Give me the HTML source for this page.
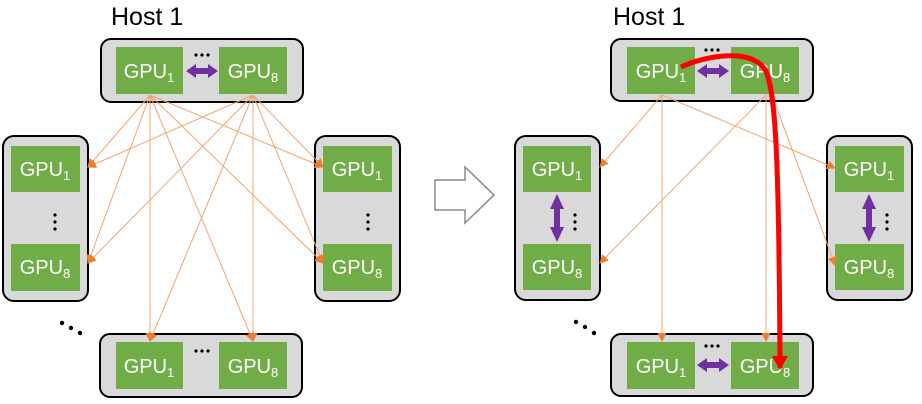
<!DOCTYPE html>
<html><head><meta charset="utf-8"><style>body{margin:0;background:#fff}svg{display:block}</style></head><body>
<svg width="922" height="404" viewBox="0 0 922 404" xmlns="http://www.w3.org/2000/svg" font-family="Liberation Sans, sans-serif">
<defs>
<marker id="oa" markerWidth="9" markerHeight="9" refX="8" refY="4.5" orient="auto" markerUnits="userSpaceOnUse"><path d="M0,0 L9,4.5 L0,9 Z" fill="#ed7d31"/></marker>
<marker id="ra" markerWidth="14" markerHeight="16" refX="12" refY="8" orient="auto" markerUnits="userSpaceOnUse"><path d="M0,0 L14,8 L0,16 Z" fill="#ff0000"/></marker>
<g id="pa"><path d="M0,0 L10,-7 L10,-3 L22,-3 L22,-7 L32,0 L22,7 L22,3 L10,3 L10,7 Z" fill="#7030a0"/></g>
</defs>
<g stroke="#000" stroke-width="2" fill="#d9d9d9">
<rect x="101" y="39" width="202" height="63" rx="10"/>
<rect x="3" y="136" width="85" height="165" rx="11"/>
<rect x="315" y="136" width="85" height="165" rx="11"/>
<rect x="100" y="334" width="202" height="63" rx="10"/>
<rect x="611" y="39" width="202" height="62" rx="10"/>
<rect x="515" y="136" width="85" height="164" rx="11"/>
<rect x="827" y="136" width="85" height="164" rx="11"/>
<rect x="611" y="334" width="202" height="62" rx="10"/>
</g>
<g fill="#70ad47">
<rect x="116" y="47" width="67" height="47"/><rect x="219" y="47" width="68" height="47"/>
<rect x="11" y="146" width="69" height="46"/><rect x="11" y="244" width="69" height="47"/>
<rect x="323" y="146" width="69" height="46"/><rect x="323" y="244" width="69" height="47"/>
<rect x="116" y="342" width="67" height="47"/><rect x="219" y="342" width="68" height="47"/>
<rect x="627" y="47" width="68" height="47"/><rect x="731" y="47" width="68" height="47"/>
<rect x="523" y="146" width="68" height="46"/><rect x="523" y="244" width="68" height="46"/>
<rect x="835" y="146" width="69" height="46"/><rect x="835" y="244" width="69" height="46"/>
<rect x="627" y="342" width="68" height="47"/><rect x="731" y="342" width="68" height="47"/>
</g>
<g fill="#fff" font-size="20" text-anchor="middle">
<text x="149" y="78">GPU<tspan font-size="13" dy="4">1</tspan></text>
<text x="253" y="78">GPU<tspan font-size="13" dy="4">8</tspan></text>
<text x="45" y="176">GPU<tspan font-size="13" dy="4">1</tspan></text>
<text x="45" y="274">GPU<tspan font-size="13" dy="4">8</tspan></text>
<text x="357" y="176">GPU<tspan font-size="13" dy="4">1</tspan></text>
<text x="357" y="274">GPU<tspan font-size="13" dy="4">8</tspan></text>
<text x="149" y="373">GPU<tspan font-size="13" dy="4">1</tspan></text>
<text x="253" y="373">GPU<tspan font-size="13" dy="4">8</tspan></text>
<text x="661" y="78">GPU<tspan font-size="13" dy="4">1</tspan></text>
<text x="765" y="78">GPU<tspan font-size="13" dy="4">8</tspan></text>
<text x="557" y="176">GPU<tspan font-size="13" dy="4">1</tspan></text>
<text x="557" y="274">GPU<tspan font-size="13" dy="4">8</tspan></text>
<text x="869" y="176">GPU<tspan font-size="13" dy="4">1</tspan></text>
<text x="869" y="274">GPU<tspan font-size="13" dy="4">8</tspan></text>
<text x="661" y="373">GPU<tspan font-size="13" dy="4">1</tspan></text>
<text x="765" y="373">GPU<tspan font-size="13" dy="4">8</tspan></text>
</g>
<g font-size="25" fill="#000"><text x="111" y="25">Host 1</text><text x="613" y="25">Host 1</text></g>
<g fill="#000">
<circle cx="196" cy="55" r="1.6"/><circle cx="202" cy="55" r="1.6"/><circle cx="208" cy="55" r="1.6"/>
<circle cx="196" cy="351" r="1.6"/><circle cx="202" cy="351" r="1.6"/><circle cx="208" cy="351" r="1.6"/>
<circle cx="706" cy="50" r="1.6"/><circle cx="712" cy="50" r="1.6"/><circle cx="718" cy="50" r="1.6"/>
<circle cx="706" cy="346" r="1.6"/><circle cx="712" cy="346" r="1.6"/><circle cx="718" cy="346" r="1.6"/>
<circle cx="55" cy="215" r="1.6"/><circle cx="55" cy="222" r="1.6"/><circle cx="55" cy="229" r="1.6"/>
<circle cx="368" cy="215" r="1.6"/><circle cx="368" cy="222" r="1.6"/><circle cx="368" cy="229" r="1.6"/>
<circle cx="575" cy="215" r="1.6"/><circle cx="575" cy="222" r="1.6"/><circle cx="575" cy="229" r="1.6"/>
<circle cx="887" cy="215" r="1.6"/><circle cx="887" cy="222" r="1.6"/><circle cx="887" cy="229" r="1.6"/>
<circle cx="62" cy="323" r="2.2"/><circle cx="71" cy="328" r="2.2"/><circle cx="80" cy="333" r="2.2"/>
<circle cx="576" cy="322" r="2.2"/><circle cx="585" cy="327" r="2.2"/><circle cx="594" cy="333" r="2.2"/>
</g>
<use href="#pa" x="186" y="71"/>
<use href="#pa" x="697" y="71"/>
<use href="#pa" x="697" y="365"/>
<use href="#pa" transform="translate(557,194) rotate(90) scale(1.5,1)"/>
<use href="#pa" transform="translate(869,194) rotate(90) scale(1.5,1)"/>
<g stroke="#f4a46e" stroke-width="1" fill="none" marker-end="url(#oa)">
<line x1="150" y1="95" x2="88" y2="167"/><line x1="150" y1="95" x2="88" y2="263"/>
<line x1="150" y1="95" x2="323" y2="167"/><line x1="150" y1="95" x2="323" y2="263"/>
<line x1="150" y1="95" x2="150" y2="341"/><line x1="150" y1="95" x2="253" y2="341"/>
<line x1="253" y1="95" x2="88" y2="167"/><line x1="253" y1="95" x2="88" y2="263"/>
<line x1="253" y1="95" x2="323" y2="167"/><line x1="253" y1="95" x2="323" y2="263"/>
<line x1="253" y1="95" x2="150" y2="341"/><line x1="253" y1="95" x2="253" y2="341"/>
<line x1="662" y1="95" x2="600" y2="167"/><line x1="662" y1="95" x2="835" y2="168"/>
<line x1="662" y1="95" x2="662" y2="341"/><line x1="766" y1="95" x2="600" y2="263"/>
<line x1="766" y1="95" x2="766" y2="341"/><line x1="772" y1="95" x2="835" y2="265"/>
</g>
<path d="M681,67 C705,56 748,48 764,68 C776,85 779,160 780,368" stroke="#ff0000" stroke-width="5" fill="none" marker-end="url(#ra)"/>
<path d="M435,180 L465,180 L465,167 L494,195 L465,223 L465,210 L435,210 Z" fill="#fff" stroke="#888" stroke-width="1.5"/>
</svg>
</body></html>
